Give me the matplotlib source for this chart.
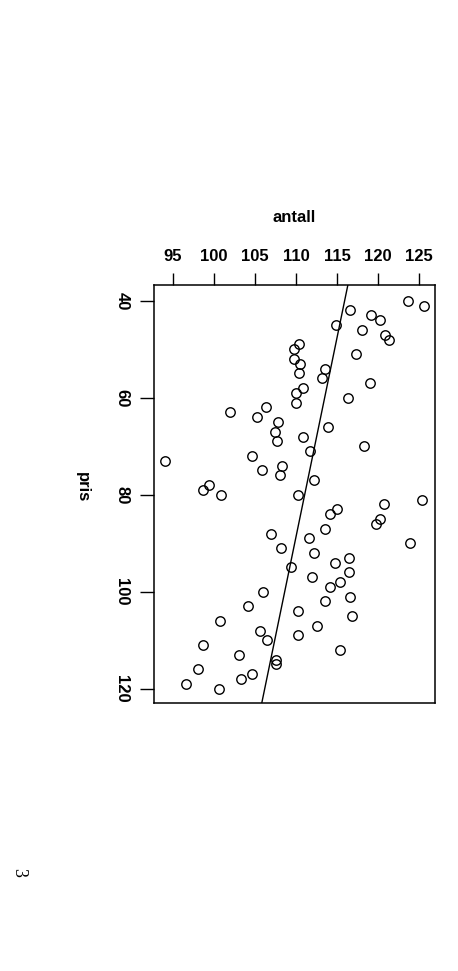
import matplotlib
matplotlib.use('Agg')
import matplotlib.pyplot as plt
import numpy as np

pris = [40, 41, 42, 43, 44, 45, 46, 47, 48, 49, 50, 51, 52, 53, 54, 55, 56, 57,
        58, 59, 60, 61, 62, 63, 64, 65, 66, 67, 68, 69, 70, 71, 72, 73, 74, 75,
        76, 77, 78, 79, 80, 80, 81, 82, 83, 84, 85, 86, 87, 88, 89, 90, 91, 92,
        93, 94, 95, 96, 97, 98, 99, 100, 101, 102, 103, 104, 105, 106, 107, 108,
        109, 110, 111, 112, 113, 114, 115, 116, 117, 118, 119, 120]
antall = [123.7, 125.6, 116.6, 119.1, 120.3, 114.9, 118.0, 120.8, 121.3, 110.4,
          109.8, 117.3, 109.8, 110.5, 113.5, 110.4, 113.2, 119.0, 110.8, 110.0,
          116.3, 110.0, 106.3, 101.9, 105.3, 107.8, 113.9, 107.4, 110.9, 107.7,
          118.3, 111.7, 104.6, 94.0, 108.3, 105.9, 108.1, 112.2, 99.4, 98.6,
          100.9, 110.2, 125.4, 120.7, 115.0, 114.2, 120.2, 119.8, 113.5, 106.9,
          111.6, 123.9, 108.2, 112.2, 116.4, 114.7, 109.4, 116.4, 112.0, 115.4,
          114.2, 106.0, 116.6, 113.5, 104.2, 110.3, 116.8, 100.7, 112.5, 105.6,
          110.3, 106.5, 98.7, 115.4, 103.0, 107.6, 107.5, 98.1, 104.6, 103.3,
          96.6, 100.6]

# fitted line antall = a + b*pris
a_fit = 120.8
b_fit = -0.1218

pris_ticks = [40, 60, 80, 100, 120]
antall_ticks = [95, 100, 105, 110, 115, 120, 125]

W, H = 458, 971
fig = plt.figure(figsize=(W / 100, H / 100), dpi=100)
ax = fig.add_axes([154.3 / W, 1 - 703.3 / H, 280.4 / W, 418.3 / H])

ax.plot(antall, pris, 'o', mfc='none', mec='black', ms=6.8, mew=1.0, ls='none')
ax.axline((a_fit + b_fit * 40, 40), (a_fit + b_fit * 120, 120),
          color='black', lw=1.0)

ax.set_xlim(92.72, 126.91)
ax.set_ylim(123.01, 36.76)

font = {'family': 'Liberation Sans', 'weight': 'bold', 'size': 12}

ax.xaxis.tick_top()
ax.set_xticks(antall_ticks)
ax.set_xticklabels([str(t) for t in antall_ticks], fontdict=font)
ax.tick_params(axis='x', direction='out', length=9, width=1, pad=6)

ax.set_yticks(pris_ticks)
ax.set_yticklabels([str(t) for t in pris_ticks], fontdict=font, rotation=-90,
                   va='center')
ax.tick_params(axis='y', direction='out', length=10, width=1, pad=8)

for s in ax.spines.values():
    s.set_linewidth(1.1)

fig.text(294.5 / W, 1 - 218 / H, 'antall', ha='center', va='center', **font)
fig.text(82 / W, 1 - 487 / H, 'pris', ha='center', va='center',
         rotation=-90, **font)
fig.text(19 / W, 1 - 872 / H, '3', ha='center', va='center', rotation=-90,
         family='Liberation Serif', size=13)

fig.savefig('out.png', dpi=100)
